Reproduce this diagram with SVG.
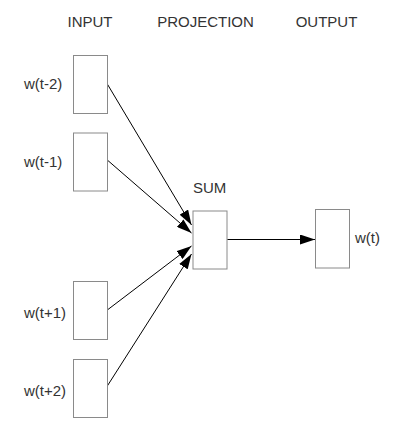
<svg xmlns="http://www.w3.org/2000/svg" width="400" height="433" viewBox="0 0 400 433">
<style>
text{font-family:"Liberation Sans",Arial,sans-serif;font-size:15px;fill:#333}
.box{fill:#fff;stroke:#8a8a8a;stroke-width:1}
.edge{stroke:#000;stroke-width:1;fill:none;marker-end:url(#ah)}
</style>
<defs>
<marker id="ah" markerUnits="userSpaceOnUse" markerWidth="15" markerHeight="10" refX="15" refY="5" orient="auto">
<path d="M0,0 L15,5 L0,10 z" fill="#000"/>
</marker>
</defs>
<rect width="400" height="433" fill="#fff"/>
<g id="headers">
<text x="90" y="27" text-anchor="middle">INPUT</text>
<text x="205.5" y="27" text-anchor="middle">PROJECTION</text>
<text x="326.5" y="27" text-anchor="middle">OUTPUT</text>
</g>
<g id="edges">
<line class="edge" x1="107.3" y1="84" x2="191.5" y2="225"/>
<line class="edge" x1="107.3" y1="160" x2="191.5" y2="233"/>
<line class="edge" x1="107.3" y1="310" x2="191.5" y2="246"/>
<line class="edge" x1="107.3" y1="386" x2="191.5" y2="254"/>
<line class="edge" x1="227.3" y1="239.5" x2="315" y2="239.5"/>
</g>
<g id="in-t-2"><rect class="box" x="73.5" y="55.5" width="34" height="58"/><text x="24" y="89">w(t-2)</text></g>
<g id="in-t-1"><rect class="box" x="73.5" y="133" width="34" height="58"/><text x="24" y="167">w(t-1)</text></g>
<g id="in-t+1"><rect class="box" x="73.5" y="281.5" width="34" height="58"/><text x="24" y="318">w(t+1)</text></g>
<g id="in-t+2"><rect class="box" x="73.5" y="359.5" width="34" height="58"/><text x="24" y="396">w(t+2)</text></g>
<g id="sum"><rect class="box" x="193" y="211" width="34" height="58"/><text x="193" y="193">SUM</text></g>
<g id="out"><rect class="box" x="315.5" y="209.5" width="34" height="58.5"/><text x="355" y="243">w(t)</text></g>
</svg>
